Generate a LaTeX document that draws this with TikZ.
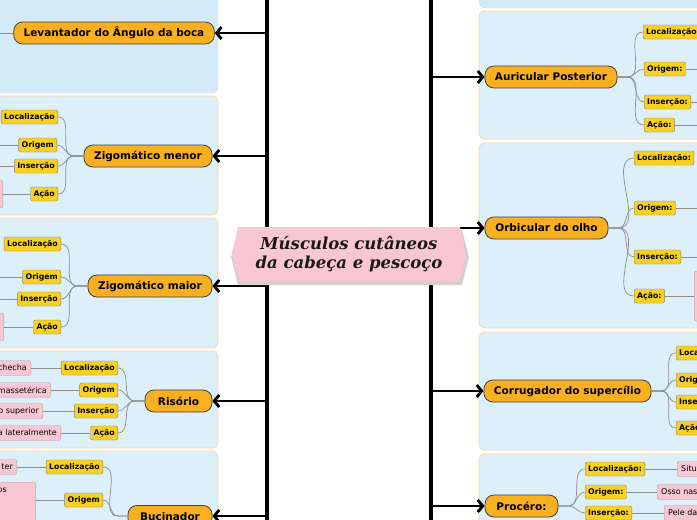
\documentclass[tikz,border=0pt]{standalone}
\usepackage{fontspec}
\setmainfont{DejaVu Sans}
\newfontfamily\titlefont{DejaVu Serif}
\usetikzlibrary{arrows.meta,shapes.geometric}
\definecolor{panelc}{HTML}{DDF0FA}
\definecolor{paneltop}{HTML}{D3EBF8}
\definecolor{panelb}{HTML}{F8D4A8}
\definecolor{mainc}{HTML}{F9B020}
\definecolor{labc}{HTML}{F9D121}
\definecolor{pinkc}{HTML}{F9C7D3}
\tikzset{
 panel/.style={fill=panelc,draw=panelb,rounded corners=6pt,line width=0.8pt},
 mainn/.style={fill=mainc,draw=black!75,rounded corners=9pt,minimum height=22pt,font=\bfseries\fontsize{10.5}{12}\selectfont,inner xsep=10pt,line width=0.8pt},
 lab/.style={fill=labc,draw=black!50,rounded corners=2pt,font=\bfseries\fontsize{7.8}{9}\selectfont,inner xsep=3pt,minimum height=14pt,inner ysep=1pt},
 pinkn/.style={fill=pinkc,draw=black!35,rounded corners=2pt,font=\fontsize{8}{9}\selectfont,inner xsep=4pt,minimum height=15pt},
 conn/.style={draw=black!45,line width=0.7pt},
 spine/.style={line width=3.5pt,black},
 arr/.style={line width=2.8pt,black,-{Straight Barb[length=5pt,width=12pt]}}
}
\begin{document}
\begin{tikzpicture}[x=1pt,y=-1pt]
\useasboundingbox (0,0) rectangle (697,520);
\clip (0,0) rectangle (697,520);
% spines
\draw[spine] (267,0) -- (267,520);
\draw[spine] (431,0) -- (431,520);
% left panels
\fill[paneltop,draw=panelb,rounded corners=6pt] (-10,-10) rectangle (218,93);
\draw[panel] (-10,96) rectangle (218,215);
\draw[panel] (-10,218) rectangle (218,348);
\draw[panel] (-10,351) rectangle (218,448);
\draw[panel] (-10,451) rectangle (218,535);
% right panels
\fill[paneltop,draw=panelb,rounded corners=6pt] (479,-10) rectangle (710,8);
\draw[panel] (479,11) rectangle (710,139);
\draw[panel] (479,143) rectangle (710,328);
\draw[panel] (479,332) rectangle (710,450);
\draw[panel] (479,454) rectangle (710,535);
% main nodes left
\node[mainn,minimum width=196pt] (m1) at (114,33) {Levantador do Ângulo da boca};
\node[mainn,minimum width=128pt] (m2) at (148,156) {Zigomático menor};
\node[mainn,minimum width=124pt] (m3) at (150,286) {Zigomático maior};
\node[mainn,minimum width=67pt] (m4) at (178.5,401) {Risório};
\node[mainn,minimum width=84pt,anchor=north] (m5) at (170,505) {Bucinador};
% main nodes right
\node[mainn,minimum width=132pt] (r1) at (551,77) {Auricular Posterior};
\node[mainn,minimum width=123pt] (r2) at (546.5,228) {Orbicular do olho};
\node[mainn,minimum width=165pt] (r3) at (567.5,391) {Corrugador do supercílio};
\node[mainn,minimum width=73pt] (r4) at (521.5,506) {Procéro:};
% arrows
\foreach \m/\y in {m1/33,m2/156,m3/286,m4/401,m5/516}{
  \coordinate (s\m) at (267,\y);
  \draw[arr] (s\m) -- (\m.east |- s\m);
}
\foreach \m/\y in {r1/77,r2/228,r3/391,r4/506}{
  \coordinate (s\m) at (431,\y);
  \draw[arr] (s\m) -- (\m.west);
}
\coordinate (c1) at (0,33);
\draw[conn,line width=1pt] (m1.west) -- (c1);
% left labels
\foreach \n/\t/\x/\y/\m in {
 a1/Localização/58/117/m2, a2/Origem/57/145/m2, a3/Inserção/58/166/m2, a4/Ação/58/194/m2,
 b1/Localização/61/244/m3, b2/Origem/61/277/m3, b3/Inserção/61/299/m3, b4/Ação/61/327/m3,
 c1/Localização/118/368/m4, c2/Origem/118/390/m4, c3/Inserção/118/411/m4, c4/Ação/118/433/m4}{
  \node[lab,anchor=east] (\n) at (\x,\y) {\t};
  \draw[conn] (\m.west) -- ++(-10,0) to[out=180,in=0] (\n.east);
}
\coordinate (m5w) at (128,516);
\foreach \n/\t/\x/\y in {d1/Localização/103/467, d2/Origem/103/500}{
  \node[lab,anchor=east] (\n) at (\x,\y) {\t};
  \draw[conn] (m5w) -- ++(-10,0) to[out=180,in=0] (\n.east);
}
% left pink / lines
\node[pinkn,anchor=east,minimum height=28pt,minimum width=20pt] (pa4) at (3,194) {};
\draw[conn] (a4.west) -- (pa4.east);
\coordinate (ea2) at (0,145); \draw[conn] (a2.west) -- (ea2);
\coordinate (ea3) at (0,166); \draw[conn] (a3.west) -- (ea3);
\coordinate (eb2) at (0,277); \draw[conn] (b2.west) -- (eb2);
\coordinate (eb3) at (0,299); \draw[conn] (b3.west) -- (eb3);
\node[pinkn,anchor=east,minimum height=28pt,minimum width=20pt] (pb4) at (4,327) {};
\draw[conn] (b4.west) -- (pb4.east);
\node[pinkn,anchor=east] (pc1) at (31,368) {Bochecha};
\node[pinkn,anchor=east] (pc2) at (51,390) {Fáscia massetérica};
\node[pinkn,anchor=east] (pc3) at (43,411) {Lábio superior};
\node[pinkn,anchor=east] (pc4) at (61,433) {Puxa lateralmente};
\foreach \i in {1,2,3,4}{\draw[conn] (c\i.west) -- (pc\i.east);}
\node[pinkn,anchor=east] (pd1) at (17,467) {Bochecha do ter};
\node[pinkn,anchor=north east,minimum height=40pt,minimum width=60pt] (pd2) at (36,482) {};
\node[font=\fontsize{8}{9}\selectfont,anchor=east,inner sep=0pt] (pd2t) at (7,490) {Processos};
\draw[conn] (d1.west) -- (pd1.east);
\draw[conn] (d2.west) -- (pd2.east |- d2.west);
% right labels
\foreach \n/\t/\x/\y/\m in {
 e1/Localização:/643/32/r1, e2/Origem:/644/69/r1, e3/Inserção:/644/102/r1, e4/Ação:/644/125/r1,
 f1/Localização:/634/158/r2, f2/Origem:/634/208/r2, f3/Inserção:/634/257/r2, f4/Ação:/634/296/r2,
 g1/Localização/676/353/r3, g2/Origem/676/380/r3, g3/Inserção/676/402/r3, g4/Ação/676/428/r3,
 h1/Localização:/585/469/r4, h2/Origem:/585/492/r4, h3/Inserção:/585/513/r4}{
  \node[lab,anchor=west] (\n) at (\x,\y) {\t};
  \draw[conn] (\m.east) -- ++(10,0) to[out=0,in=180] (\n.west);
}
\foreach \n in {e2,e3,e4,f2,f3}{\coordinate (x\n) at (697,0); \draw[conn] (\n.east) -- (x\n |- \n.east);}
\node[pinkn,anchor=north west,minimum height=50pt,minimum width=30pt] (pf4) at (694,271) {};
\draw[conn] (f4.east) -- (pf4.west |- f4.east);
\node[pinkn,anchor=west] (ph1) at (677,469) {Situado};
\node[pinkn,anchor=west] (ph2) at (657,492) {Osso nasal};
\node[pinkn,anchor=west] (ph3) at (664,513) {Pele da};
\foreach \i in {1,2,3}{\draw[conn] (h\i.east) -- (ph\i.west);}
% center
\fill[black!18] (238,230) -- (462,230) -- (469,257) -- (462,285) -- (238,285) -- (231,257) -- cycle;
\fill[pinkc] (238,227) -- (460,227) -- (466,254) -- (460,281) -- (238,281) -- (232,254) -- cycle;
\node[font=\titlefont\bfseries\itshape\fontsize{16.5}{19}\selectfont,align=center,text=black!90] (ttl) at (349,254) {Músculos cutâneos\\da cabeça e pescoço};
\end{tikzpicture}
\end{document}
